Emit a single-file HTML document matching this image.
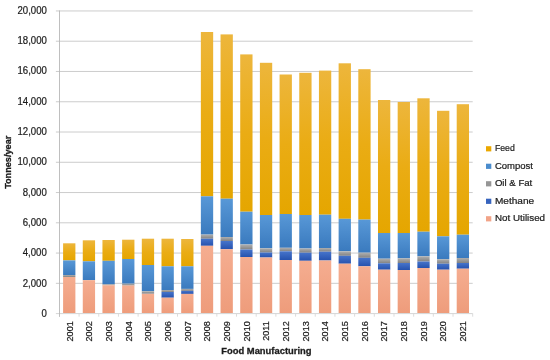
<!DOCTYPE html>
<html lang="en">
<head>
<meta charset="utf-8">
<title>Food Manufacturing</title>
<style>
html,body{margin:0;padding:0;background:#fff;}
body{width:550px;height:360px;overflow:hidden;}
svg{display:block;}
text{font-family:"Liberation Sans",sans-serif;fill:#1c1c1c;}
.b{font-weight:bold;stroke:#1c1c1c;stroke-width:0.3;}
.r text{stroke:#1c1c1c;stroke-width:0.22;}
</style>
</head>
<body>
<svg width="550" height="360" viewBox="0 0 550 360">
<defs>
<linearGradient id="g-feed" x1="0" y1="0" x2="0" y2="1"><stop offset="0" stop-color="#EDB63C"/><stop offset="0.5" stop-color="#EAAC14"/><stop offset="1" stop-color="#E5A600"/></linearGradient>
<linearGradient id="g-comp" x1="0" y1="0" x2="0" y2="1"><stop offset="0" stop-color="#5898D7"/><stop offset="1" stop-color="#3A7ABE"/></linearGradient>
<linearGradient id="g-oil" x1="0" y1="0" x2="0" y2="1"><stop offset="0" stop-color="#AFAFAF"/><stop offset="1" stop-color="#828282"/></linearGradient>
<linearGradient id="g-meth" x1="0" y1="0" x2="0" y2="1"><stop offset="0" stop-color="#4674CB"/><stop offset="1" stop-color="#2652AE"/></linearGradient>
<linearGradient id="g-nu" x1="0" y1="0" x2="0" y2="1"><stop offset="0" stop-color="#F5AD90"/><stop offset="1" stop-color="#EE9C7B"/></linearGradient>
</defs>
<rect width="550" height="360" fill="#fff"/>
<g stroke="#c6c6c6" stroke-width="0.9" fill="none">
<line x1="55.9" y1="313.60" x2="472.7" y2="313.60" stroke="#d0d0d0"/>
<line x1="55.9" y1="283.34" x2="472.7" y2="283.34"/>
<line x1="55.9" y1="253.07" x2="472.7" y2="253.07"/>
<line x1="55.9" y1="222.81" x2="472.7" y2="222.81"/>
<line x1="55.9" y1="192.54" x2="472.7" y2="192.54"/>
<line x1="55.9" y1="162.28" x2="472.7" y2="162.28"/>
<line x1="55.9" y1="132.01" x2="472.7" y2="132.01"/>
<line x1="55.9" y1="101.75" x2="472.7" y2="101.75"/>
<line x1="55.9" y1="71.48" x2="472.7" y2="71.48"/>
<line x1="55.9" y1="41.21" x2="472.7" y2="41.21"/>
<line x1="55.9" y1="10.95" x2="472.7" y2="10.95"/>
<line x1="59.50" y1="10.5" x2="59.50" y2="316.9" stroke="#b8b8b8"/>
<line x1="79.08" y1="313.5" x2="79.08" y2="316.7" stroke="#d8d8d8"/>
<line x1="98.76" y1="313.5" x2="98.76" y2="316.7" stroke="#d8d8d8"/>
<line x1="118.44" y1="313.5" x2="118.44" y2="316.7" stroke="#d8d8d8"/>
<line x1="138.12" y1="313.5" x2="138.12" y2="316.7" stroke="#d8d8d8"/>
<line x1="157.80" y1="313.5" x2="157.80" y2="316.7" stroke="#d8d8d8"/>
<line x1="177.49" y1="313.5" x2="177.49" y2="316.7" stroke="#d8d8d8"/>
<line x1="197.17" y1="313.5" x2="197.17" y2="316.7" stroke="#d8d8d8"/>
<line x1="216.85" y1="313.5" x2="216.85" y2="316.7" stroke="#d8d8d8"/>
<line x1="236.53" y1="313.5" x2="236.53" y2="316.7" stroke="#d8d8d8"/>
<line x1="256.21" y1="313.5" x2="256.21" y2="316.7" stroke="#d8d8d8"/>
<line x1="275.89" y1="313.5" x2="275.89" y2="316.7" stroke="#d8d8d8"/>
<line x1="295.57" y1="313.5" x2="295.57" y2="316.7" stroke="#d8d8d8"/>
<line x1="315.25" y1="313.5" x2="315.25" y2="316.7" stroke="#d8d8d8"/>
<line x1="334.93" y1="313.5" x2="334.93" y2="316.7" stroke="#d8d8d8"/>
<line x1="354.61" y1="313.5" x2="354.61" y2="316.7" stroke="#d8d8d8"/>
<line x1="374.30" y1="313.5" x2="374.30" y2="316.7" stroke="#d8d8d8"/>
<line x1="393.98" y1="313.5" x2="393.98" y2="316.7" stroke="#d8d8d8"/>
<line x1="413.66" y1="313.5" x2="413.66" y2="316.7" stroke="#d8d8d8"/>
<line x1="433.34" y1="313.5" x2="433.34" y2="316.7" stroke="#d8d8d8"/>
<line x1="453.02" y1="313.5" x2="453.02" y2="316.7" stroke="#d8d8d8"/>
<line x1="472.70" y1="313.5" x2="472.70" y2="316.7" stroke="#d8d8d8"/>
</g>
<g>
<rect x="63.09" y="243.30" width="12.3" height="17.10" fill="url(#g-feed)"/>
<rect x="63.09" y="260.40" width="12.3" height="14.60" fill="url(#g-comp)"/>
<rect x="63.09" y="275.00" width="12.3" height="2.00" fill="url(#g-oil)"/>
<rect x="63.09" y="277.00" width="12.3" height="36.00" fill="url(#g-nu)"/>
<rect x="82.77" y="240.30" width="12.3" height="21.00" fill="url(#g-feed)"/>
<rect x="82.77" y="261.30" width="12.3" height="18.70" fill="url(#g-comp)"/>
<rect x="82.77" y="280.00" width="12.3" height="0.20" fill="url(#g-oil)"/>
<rect x="82.77" y="280.20" width="12.3" height="32.80" fill="url(#g-nu)"/>
<rect x="102.45" y="240.00" width="12.3" height="20.80" fill="url(#g-feed)"/>
<rect x="102.45" y="260.80" width="12.3" height="23.40" fill="url(#g-comp)"/>
<rect x="102.45" y="284.20" width="12.3" height="1.10" fill="url(#g-oil)"/>
<rect x="102.45" y="285.30" width="12.3" height="27.70" fill="url(#g-nu)"/>
<rect x="122.13" y="239.70" width="12.3" height="19.30" fill="url(#g-feed)"/>
<rect x="122.13" y="259.00" width="12.3" height="24.70" fill="url(#g-comp)"/>
<rect x="122.13" y="283.70" width="12.3" height="1.80" fill="url(#g-oil)"/>
<rect x="122.13" y="285.50" width="12.3" height="27.50" fill="url(#g-nu)"/>
<rect x="141.81" y="238.70" width="12.3" height="26.30" fill="url(#g-feed)"/>
<rect x="141.81" y="265.00" width="12.3" height="26.20" fill="url(#g-comp)"/>
<rect x="141.81" y="291.20" width="12.3" height="2.50" fill="url(#g-oil)"/>
<rect x="141.81" y="293.70" width="12.3" height="0.10" fill="url(#g-meth)"/>
<rect x="141.81" y="293.80" width="12.3" height="19.20" fill="url(#g-nu)"/>
<rect x="161.50" y="238.70" width="12.3" height="27.60" fill="url(#g-feed)"/>
<rect x="161.50" y="266.30" width="12.3" height="23.70" fill="url(#g-comp)"/>
<rect x="161.50" y="290.00" width="12.3" height="2.00" fill="url(#g-oil)"/>
<rect x="161.50" y="292.00" width="12.3" height="5.70" fill="url(#g-meth)"/>
<rect x="161.50" y="297.70" width="12.3" height="15.30" fill="url(#g-nu)"/>
<rect x="181.18" y="239.00" width="12.3" height="27.30" fill="url(#g-feed)"/>
<rect x="181.18" y="266.30" width="12.3" height="22.60" fill="url(#g-comp)"/>
<rect x="181.18" y="288.90" width="12.3" height="2.00" fill="url(#g-oil)"/>
<rect x="181.18" y="290.90" width="12.3" height="3.00" fill="url(#g-meth)"/>
<rect x="181.18" y="293.90" width="12.3" height="19.10" fill="url(#g-nu)"/>
<rect x="200.86" y="32.00" width="12.3" height="164.30" fill="url(#g-feed)"/>
<rect x="200.86" y="196.30" width="12.3" height="38.30" fill="url(#g-comp)"/>
<rect x="200.86" y="234.60" width="12.3" height="4.10" fill="url(#g-oil)"/>
<rect x="200.86" y="238.70" width="12.3" height="7.10" fill="url(#g-meth)"/>
<rect x="200.86" y="245.80" width="12.3" height="67.20" fill="url(#g-nu)"/>
<rect x="220.54" y="34.40" width="12.3" height="164.30" fill="url(#g-feed)"/>
<rect x="220.54" y="198.70" width="12.3" height="38.30" fill="url(#g-comp)"/>
<rect x="220.54" y="237.00" width="12.3" height="4.00" fill="url(#g-oil)"/>
<rect x="220.54" y="241.00" width="12.3" height="8.20" fill="url(#g-meth)"/>
<rect x="220.54" y="249.20" width="12.3" height="63.80" fill="url(#g-nu)"/>
<rect x="240.22" y="54.40" width="12.3" height="157.30" fill="url(#g-feed)"/>
<rect x="240.22" y="211.70" width="12.3" height="32.80" fill="url(#g-comp)"/>
<rect x="240.22" y="244.50" width="12.3" height="5.00" fill="url(#g-oil)"/>
<rect x="240.22" y="249.50" width="12.3" height="7.50" fill="url(#g-meth)"/>
<rect x="240.22" y="257.00" width="12.3" height="56.00" fill="url(#g-nu)"/>
<rect x="259.90" y="62.80" width="12.3" height="152.20" fill="url(#g-feed)"/>
<rect x="259.90" y="215.00" width="12.3" height="33.30" fill="url(#g-comp)"/>
<rect x="259.90" y="248.30" width="12.3" height="4.20" fill="url(#g-oil)"/>
<rect x="259.90" y="252.50" width="12.3" height="5.00" fill="url(#g-meth)"/>
<rect x="259.90" y="257.50" width="12.3" height="55.50" fill="url(#g-nu)"/>
<rect x="279.58" y="74.50" width="12.3" height="139.50" fill="url(#g-feed)"/>
<rect x="279.58" y="214.00" width="12.3" height="33.80" fill="url(#g-comp)"/>
<rect x="279.58" y="247.80" width="12.3" height="3.50" fill="url(#g-oil)"/>
<rect x="279.58" y="251.30" width="12.3" height="8.70" fill="url(#g-meth)"/>
<rect x="279.58" y="260.00" width="12.3" height="53.00" fill="url(#g-nu)"/>
<rect x="299.26" y="72.80" width="12.3" height="142.20" fill="url(#g-feed)"/>
<rect x="299.26" y="215.00" width="12.3" height="33.50" fill="url(#g-comp)"/>
<rect x="299.26" y="248.50" width="12.3" height="4.20" fill="url(#g-oil)"/>
<rect x="299.26" y="252.70" width="12.3" height="8.10" fill="url(#g-meth)"/>
<rect x="299.26" y="260.80" width="12.3" height="52.20" fill="url(#g-nu)"/>
<rect x="318.94" y="70.60" width="12.3" height="144.10" fill="url(#g-feed)"/>
<rect x="318.94" y="214.70" width="12.3" height="33.30" fill="url(#g-comp)"/>
<rect x="318.94" y="248.00" width="12.3" height="3.70" fill="url(#g-oil)"/>
<rect x="318.94" y="251.70" width="12.3" height="8.80" fill="url(#g-meth)"/>
<rect x="318.94" y="260.50" width="12.3" height="52.50" fill="url(#g-nu)"/>
<rect x="338.62" y="63.30" width="12.3" height="155.50" fill="url(#g-feed)"/>
<rect x="338.62" y="218.80" width="12.3" height="32.50" fill="url(#g-comp)"/>
<rect x="338.62" y="251.30" width="12.3" height="4.50" fill="url(#g-oil)"/>
<rect x="338.62" y="255.80" width="12.3" height="7.90" fill="url(#g-meth)"/>
<rect x="338.62" y="263.70" width="12.3" height="49.30" fill="url(#g-nu)"/>
<rect x="358.30" y="69.20" width="12.3" height="150.40" fill="url(#g-feed)"/>
<rect x="358.30" y="219.60" width="12.3" height="33.10" fill="url(#g-comp)"/>
<rect x="358.30" y="252.70" width="12.3" height="5.10" fill="url(#g-oil)"/>
<rect x="358.30" y="257.80" width="12.3" height="8.50" fill="url(#g-meth)"/>
<rect x="358.30" y="266.30" width="12.3" height="46.70" fill="url(#g-nu)"/>
<rect x="377.99" y="100.00" width="12.3" height="133.00" fill="url(#g-feed)"/>
<rect x="377.99" y="233.00" width="12.3" height="25.70" fill="url(#g-comp)"/>
<rect x="377.99" y="258.70" width="12.3" height="4.60" fill="url(#g-oil)"/>
<rect x="377.99" y="263.30" width="12.3" height="6.40" fill="url(#g-meth)"/>
<rect x="377.99" y="269.70" width="12.3" height="43.30" fill="url(#g-nu)"/>
<rect x="397.67" y="102.00" width="12.3" height="131.00" fill="url(#g-feed)"/>
<rect x="397.67" y="233.00" width="12.3" height="25.30" fill="url(#g-comp)"/>
<rect x="397.67" y="258.30" width="12.3" height="4.70" fill="url(#g-oil)"/>
<rect x="397.67" y="263.00" width="12.3" height="7.00" fill="url(#g-meth)"/>
<rect x="397.67" y="270.00" width="12.3" height="43.00" fill="url(#g-nu)"/>
<rect x="417.35" y="98.30" width="12.3" height="133.40" fill="url(#g-feed)"/>
<rect x="417.35" y="231.70" width="12.3" height="24.60" fill="url(#g-comp)"/>
<rect x="417.35" y="256.30" width="12.3" height="5.20" fill="url(#g-oil)"/>
<rect x="417.35" y="261.50" width="12.3" height="6.50" fill="url(#g-meth)"/>
<rect x="417.35" y="268.00" width="12.3" height="45.00" fill="url(#g-nu)"/>
<rect x="437.03" y="110.80" width="12.3" height="125.50" fill="url(#g-feed)"/>
<rect x="437.03" y="236.30" width="12.3" height="22.90" fill="url(#g-comp)"/>
<rect x="437.03" y="259.20" width="12.3" height="4.50" fill="url(#g-oil)"/>
<rect x="437.03" y="263.70" width="12.3" height="6.00" fill="url(#g-meth)"/>
<rect x="437.03" y="269.70" width="12.3" height="43.30" fill="url(#g-nu)"/>
<rect x="456.71" y="104.20" width="12.3" height="130.50" fill="url(#g-feed)"/>
<rect x="456.71" y="234.70" width="12.3" height="23.30" fill="url(#g-comp)"/>
<rect x="456.71" y="258.00" width="12.3" height="5.00" fill="url(#g-oil)"/>
<rect x="456.71" y="263.00" width="12.3" height="5.70" fill="url(#g-meth)"/>
<rect x="456.71" y="268.70" width="12.3" height="44.30" fill="url(#g-nu)"/>
</g>
<g font-size="10.5" text-anchor="end" class="r">
<text transform="translate(46.8,317.00) scale(0.915,1)">0</text>
<text transform="translate(46.8,286.68) scale(0.915,1)">2,000</text>
<text transform="translate(46.8,256.35) scale(0.915,1)">4,000</text>
<text transform="translate(46.8,226.03) scale(0.915,1)">6,000</text>
<text transform="translate(46.8,195.70) scale(0.915,1)">8,000</text>
<text transform="translate(46.8,165.38) scale(0.915,1)">10,000</text>
<text transform="translate(46.8,135.05) scale(0.915,1)">12,000</text>
<text transform="translate(46.8,104.72) scale(0.915,1)">14,000</text>
<text transform="translate(46.8,74.40) scale(0.915,1)">16,000</text>
<text transform="translate(46.8,44.07) scale(0.915,1)">18,000</text>
<text transform="translate(46.8,13.75) scale(0.915,1)">20,000</text>
</g>
<g font-size="9.8" text-anchor="end" class="r">
<text transform="translate(72.54,321.3) rotate(-90) scale(0.925,1)">2001</text>
<text transform="translate(92.22,321.3) rotate(-90) scale(0.925,1)">2002</text>
<text transform="translate(111.90,321.3) rotate(-90) scale(0.925,1)">2003</text>
<text transform="translate(131.58,321.3) rotate(-90) scale(0.925,1)">2004</text>
<text transform="translate(151.26,321.3) rotate(-90) scale(0.925,1)">2005</text>
<text transform="translate(170.95,321.3) rotate(-90) scale(0.925,1)">2006</text>
<text transform="translate(190.63,321.3) rotate(-90) scale(0.925,1)">2007</text>
<text transform="translate(210.31,321.3) rotate(-90) scale(0.925,1)">2008</text>
<text transform="translate(229.99,321.3) rotate(-90) scale(0.925,1)">2009</text>
<text transform="translate(249.67,321.3) rotate(-90) scale(0.925,1)">2010</text>
<text transform="translate(269.35,321.3) rotate(-90) scale(0.925,1)">2011</text>
<text transform="translate(289.03,321.3) rotate(-90) scale(0.925,1)">2012</text>
<text transform="translate(308.71,321.3) rotate(-90) scale(0.925,1)">2013</text>
<text transform="translate(328.39,321.3) rotate(-90) scale(0.925,1)">2014</text>
<text transform="translate(348.07,321.3) rotate(-90) scale(0.925,1)">2015</text>
<text transform="translate(367.75,321.3) rotate(-90) scale(0.925,1)">2016</text>
<text transform="translate(387.44,321.3) rotate(-90) scale(0.925,1)">2017</text>
<text transform="translate(407.12,321.3) rotate(-90) scale(0.925,1)">2018</text>
<text transform="translate(426.80,321.3) rotate(-90) scale(0.925,1)">2019</text>
<text transform="translate(446.48,321.3) rotate(-90) scale(0.925,1)">2020</text>
<text transform="translate(466.16,321.3) rotate(-90) scale(0.925,1)">2021</text>
</g>
<text class="b" font-size="9.9" text-anchor="middle" transform="translate(11.2,162.3) rotate(-90) scale(0.925,1)">Tonnes/year</text>
<text class="b" font-size="9.6" text-anchor="middle" transform="translate(266.4,354.3) scale(0.98,1)">Food Manufacturing</text>
<g font-size="9.6" class="r">
<rect x="486" y="146.2" width="5.3" height="5.2" fill="#EBA800"/>
<text x="494.9" y="151.4" textLength="19.9" lengthAdjust="spacingAndGlyphs">Feed</text>
<rect x="486" y="163.7" width="5.3" height="5.2" fill="#4A8CCD"/>
<text x="494.9" y="168.9" textLength="38.0" lengthAdjust="spacingAndGlyphs">Compost</text>
<rect x="486" y="181.2" width="5.3" height="5.2" fill="#969696"/>
<text x="494.9" y="186.4" textLength="37.4" lengthAdjust="spacingAndGlyphs">Oil &amp; Fat</text>
<rect x="486" y="198.7" width="5.3" height="5.2" fill="#3764BE"/>
<text x="494.9" y="203.9" textLength="39.2" lengthAdjust="spacingAndGlyphs">Methane</text>
<rect x="486" y="216.2" width="5.3" height="5.2" fill="#F2A488"/>
<text x="494.9" y="221.4" textLength="50.2" lengthAdjust="spacingAndGlyphs">Not Utilised</text>
</g>
</svg>
</body>
</html>
